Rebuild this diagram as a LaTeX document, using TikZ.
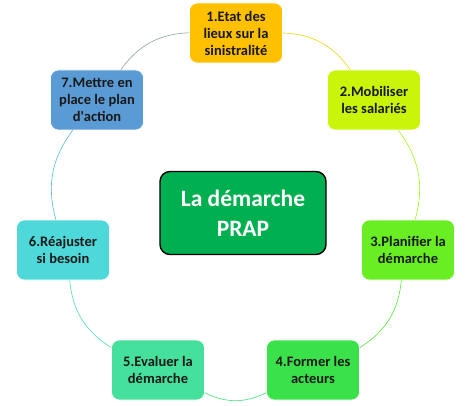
\documentclass[tikz,border=0pt]{standalone}
\usepackage{fontspec}
\setmainfont{Carlito}
\definecolor{etat}{HTML}{FFC000}
\definecolor{mobil}{HTML}{C8F50A}
\definecolor{planif}{HTML}{69EE24}
\definecolor{former}{HTML}{3BE14A}
\definecolor{evaluer}{HTML}{45E09B}
\definecolor{reajust}{HTML}{4ED8DA}
\definecolor{plan}{HTML}{5B9BD5}
\definecolor{prap}{HTML}{00B050}
\tikzset{
  stepbox/.style={draw=white, line width=0.6pt, rounded corners=8pt, minimum width=93pt, minimum height=60pt,
    align=center, font=\fontsize{14.5}{17}\selectfont\bfseries, text=black!90, inner sep=2pt},
  ring/.style={line width=0.6pt}
}
\begin{document}
\begin{tikzpicture}[x=1pt,y=1pt]
\useasboundingbox (0,0) rectangle (474,405);

\node[stepbox, fill=etat] (etape1) at (236,372) {1.Etat des\\lieux sur la\\sinistralité};
\node[stepbox, fill=mobil] (etape2) at (374,305) {2.Mobiliser\\les salariés};
\node[stepbox, fill=planif] (etape3) at (408,155) {3.Planifier la\\démarche};
\node[stepbox, fill=former] (etape4) at (313,35) {4.Former les\\acteurs};
\node[stepbox, fill=evaluer] (etape5) at (158,35) {5.Evaluer la\\démarche};
\node[stepbox, fill=reajust] (etape6) at (63,155) {6.Réajuster\\si besoin};
\node[stepbox, fill=plan] (etape7) at (97,305) {7.Mettre en\\place le plan\\d\textquotesingle action};

\node[draw=black, line width=1.4pt, fill=prap, rounded corners=10pt, minimum width=166pt, minimum height=83pt,
  align=center, text=white, font=\fontsize{23.5}{30}\selectfont\bfseries] (prap) at (243,192) {La démarche\\PRAP};

% cercle entre les etapes
\draw[ring, etat!60!mobil] (etape1) to[bend left=26] (etape2);
\draw[ring, mobil!60!planif] (etape2) to[bend left=26] (etape3);
\draw[ring, planif!50!former] (etape3) to[bend left=26] (etape4);
\draw[ring, former!50!evaluer] (etape4) to[bend left=26] (etape5);
\draw[ring, evaluer!50!reajust] (etape5) to[bend left=26] (etape6);
\draw[ring, reajust!50!plan] (etape6) to[bend left=26] (etape7);
\draw[ring, plan!70!etat] (etape7) to[bend left=26] (etape1);
\end{tikzpicture}
\end{document}
